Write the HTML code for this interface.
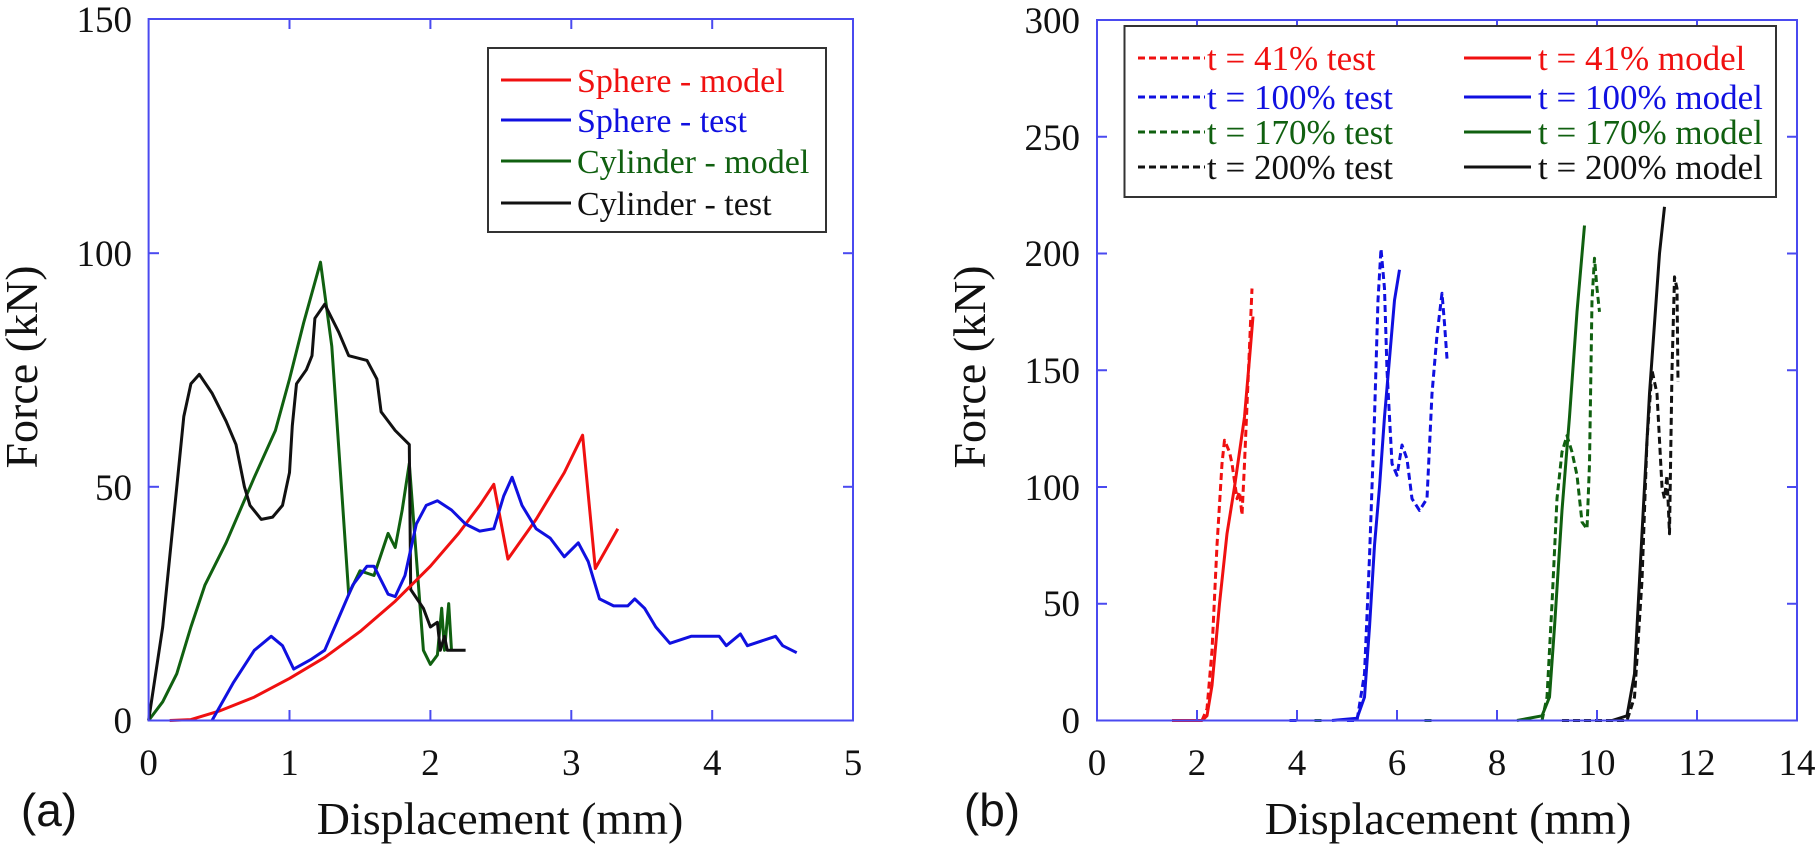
<!DOCTYPE html>
<html><head><meta charset="utf-8"><style>
html,body{margin:0;padding:0;background:#fff;}
svg{display:block;}
text{font-family:"Liberation Serif",serif;}
</style></head><body>
<svg id="s" width="1820" height="846" viewBox="0 0 1820 846" xmlns="http://www.w3.org/2000/svg">
<rect width="1820" height="846" fill="#fff"/>
<g id="plots"></g>
<!-- Panel a axes -->
<rect x="148.6" y="19" width="704.4" height="701.5" fill="none" stroke="#4a4af0" stroke-width="2"/>
<g stroke="#4a4af0" stroke-width="2">
<line x1="289.5" y1="720.5" x2="289.5" y2="710"/><line x1="430.4" y1="720.5" x2="430.4" y2="710"/><line x1="571.3" y1="720.5" x2="571.3" y2="710"/><line x1="712.2" y1="720.5" x2="712.2" y2="710"/>
<line x1="289.5" y1="19" x2="289.5" y2="29"/><line x1="430.4" y1="19" x2="430.4" y2="29"/><line x1="571.3" y1="19" x2="571.3" y2="29"/><line x1="712.2" y1="19" x2="712.2" y2="29"/>
<line x1="148.6" y1="253.2" x2="159" y2="253.2"/><line x1="148.6" y1="486.8" x2="159" y2="486.8"/>
<line x1="853" y1="253.2" x2="843" y2="253.2"/><line x1="853" y1="486.8" x2="843" y2="486.8"/>
</g>
<g font-size="37" fill="#111" text-anchor="end">
<text x="132" y="32">150</text><text x="132" y="266">100</text><text x="132" y="500">50</text><text x="132" y="733">0</text>
</g>
<g font-size="37" fill="#111" text-anchor="middle">
<text x="148.6" y="775">0</text><text x="289.5" y="775">1</text><text x="430.4" y="775">2</text><text x="571.3" y="775">3</text><text x="712.2" y="775">4</text><text x="853" y="775">5</text>
</g>
<text x="500" y="834" font-size="46" text-anchor="middle" fill="#111">Displacement (mm)</text>
<text transform="translate(37,367) rotate(-90)" font-size="46" text-anchor="middle" fill="#111">Force (kN)</text>
<text x="49" y="826" font-size="46" text-anchor="middle" fill="#111" style="font-family:'Liberation Sans',sans-serif">(a)</text>
<!-- legend a -->
<rect x="488" y="48" width="338" height="184" fill="#fff" stroke="#333" stroke-width="2"/>
<g stroke-width="3">
<line x1="501" y1="80" x2="571" y2="80" stroke="#f01010"/>
<line x1="501" y1="120" x2="571" y2="120" stroke="#1010e0"/>
<line x1="501" y1="161" x2="571" y2="161" stroke="#106010"/>
<line x1="501" y1="203" x2="571" y2="203" stroke="#111"/>
</g>
<g font-size="34">
<text x="577" y="92" fill="#f01010">Sphere - model</text>
<text x="577" y="132" fill="#1010e0">Sphere - test</text>
<text x="577" y="173" fill="#106010">Cylinder - model</text>
<text x="577" y="215" fill="#111">Cylinder - test</text>
</g>
<!-- Panel b axes -->
<rect x="1097" y="20" width="700" height="700.5" fill="none" stroke="#4a4af0" stroke-width="2"/>
<g id="tb" stroke="#4a4af0" stroke-width="2"></g>
<g font-size="37" fill="#111" text-anchor="end">
<text x="1080" y="33">300</text><text x="1080" y="150">250</text><text x="1080" y="266">200</text><text x="1080" y="383">150</text><text x="1080" y="500">100</text><text x="1080" y="616">50</text><text x="1080" y="733">0</text>
</g>
<g font-size="37" fill="#111" text-anchor="middle">
<text x="1097" y="775">0</text><text x="1197" y="775">2</text><text x="1297" y="775">4</text><text x="1397" y="775">6</text><text x="1497" y="775">8</text><text x="1597" y="775">10</text><text x="1697" y="775">12</text><text x="1797" y="775">14</text>
</g>
<text x="1448" y="834" font-size="46" text-anchor="middle" fill="#111">Displacement (mm)</text>
<text transform="translate(985,367) rotate(-90)" font-size="46" text-anchor="middle" fill="#111">Force (kN)</text>
<text x="992" y="826" font-size="46" text-anchor="middle" fill="#111" style="font-family:'Liberation Sans',sans-serif">(b)</text>
<!-- legend b -->
<rect x="1124.5" y="26" width="651.5" height="171" fill="#fff" stroke="#333" stroke-width="2"/>
<g stroke-width="3">
<line x1="1138" y1="58" x2="1205" y2="58" stroke="#f01010" stroke-dasharray="7 4"/>
<line x1="1138" y1="97" x2="1205" y2="97" stroke="#1010e0" stroke-dasharray="7 4"/>
<line x1="1138" y1="132" x2="1205" y2="132" stroke="#106010" stroke-dasharray="7 4"/>
<line x1="1138" y1="167" x2="1205" y2="167" stroke="#111" stroke-dasharray="7 4"/>
<line x1="1464" y1="58" x2="1531" y2="58" stroke="#f01010"/>
<line x1="1464" y1="97" x2="1531" y2="97" stroke="#1010e0"/>
<line x1="1464" y1="132" x2="1531" y2="132" stroke="#106010"/>
<line x1="1464" y1="167" x2="1531" y2="167" stroke="#111"/>
</g>
<g font-size="35">
<text x="1207" y="70" fill="#f01010">t = 41% test</text>
<text x="1207" y="109" fill="#1010e0">t = 100% test</text>
<text x="1207" y="144" fill="#106010">t = 170% test</text>
<text x="1207" y="179" fill="#111">t = 200% test</text>
<text x="1538" y="70" fill="#f01010">t = 41% model</text>
<text x="1538" y="109" fill="#1010e0">t = 100% model</text>
<text x="1538" y="144" fill="#106010">t = 170% model</text>
<text x="1538" y="179" fill="#111">t = 200% model</text>
</g>
</svg>
<script>
(function(){
var NS="http://www.w3.org/2000/svg";
var g=document.getElementById("plots");
function add(pts,fx,fy,col,dash){
 var p=document.createElementNS(NS,"polyline");
 var s=[];for(var i=0;i<pts.length;i+=2){s.push(fx(pts[i]).toFixed(1)+","+fy(pts[i+1]).toFixed(1));}
 p.setAttribute("points",s.join(" "));p.setAttribute("fill","none");p.setAttribute("stroke",col);
 p.setAttribute("stroke-width","3");p.setAttribute("stroke-linejoin","round");
 if(dash)p.setAttribute("stroke-dasharray","7 4");
 g.appendChild(p);
}
var ax=function(x){return 148.6+x*140.9;},ay=function(y){return 720.5-y*4.677;};
var bx=function(x){return 1097+x*50;},by=function(y){return 720.5-y*2.335;};
var R="#f01010",B="#1010e0",G="#106010",K="#111";
// panel a
add([0,0,0.1,4,0.2,10,0.3,20,0.4,29,0.55,38,0.75,52,0.9,62,1.0,73,1.1,85,1.22,98,1.3,80,1.38,45,1.42,27,1.5,32,1.6,31,1.7,40,1.75,37,1.8,45,1.85,55,1.9,35,1.95,15,2.0,12,2.05,14,2.08,24,2.1,15,2.13,25,2.15,15],ax,ay,G);
add([0,0,0.1,20,0.2,50,0.25,65,0.3,72,0.36,74,0.45,70,0.55,64,0.62,59,0.68,50,0.72,46,0.8,43,0.88,43.5,0.95,46,1.0,53,1.02,63,1.05,72,1.12,75,1.16,78,1.18,86,1.25,89,1.35,83,1.42,78,1.55,77,1.62,73,1.65,66,1.75,62,1.85,59,1.86,28,1.95,24,2.0,20,2.05,21,2.07,15,2.1,18,2.12,15,2.25,15],ax,ay,K);
add([0.15,0,0.3,0.2,0.5,2,0.75,5,1.0,9,1.25,13.5,1.5,19,1.75,25.5,2.0,33,2.2,40,2.35,46,2.45,50.5,2.55,34.5,2.75,43,2.95,53,3.08,61,3.17,32.5,3.33,41],ax,ay,R);
add([0.45,0,0.6,8,0.75,15,0.87,18,0.95,16,1.03,11,1.15,13,1.25,15,1.35,22,1.45,29,1.55,33,1.6,33,1.7,27,1.75,26.5,1.82,31,1.9,42,1.97,46,2.05,47,2.15,45,2.25,42,2.35,40.5,2.45,41,2.52,48,2.58,52,2.65,46,2.75,41,2.85,39,2.95,35,3.05,38,3.12,34,3.2,26,3.3,24.5,3.4,24.5,3.45,26,3.52,24,3.6,20,3.7,16.5,3.85,18,4.05,18,4.1,16,4.2,18.5,4.25,16,4.45,18,4.5,16,4.6,14.5],ax,ay,B);
// panel b
add([1.5,0,2.1,0,2.2,2,2.3,15,2.45,50,2.6,80,2.75,100,2.85,115,2.95,130,3.05,155,3.12,173],bx,by,R);
add([2.1,0,2.2,5,2.3,30,2.4,75,2.5,110,2.55,120,2.65,115,2.7,110,2.8,95,2.85,98,2.9,88,2.95,110,3.0,135,3.05,160,3.1,185],bx,by,R,1);
add([4.7,0,5.2,1,5.35,10,5.45,40,5.55,75,5.65,100,5.75,130,5.85,155,5.95,180,6.05,193],bx,by,B);
add([3.85,0,4.0,0],bx,by,B,1);
add([5.0,0,5.2,0,5.35,20,5.45,70,5.55,130,5.62,180,5.68,202,5.75,185,5.8,150,5.9,110,6.0,105,6.1,118,6.2,112,6.3,95,6.45,90,6.6,95,6.7,140,6.8,165,6.9,183,6.95,170,7.0,155],bx,by,B,1);
add([4.35,0,4.5,0],bx,by,G,1);add([6.55,0,6.7,0],bx,by,G,1);
add([8.4,0,8.9,2,9.05,10,9.15,40,9.3,90,9.45,130,9.6,175,9.75,212],bx,by,G);
add([8.9,0,9.0,10,9.1,50,9.2,95,9.3,115,9.4,122,9.5,115,9.6,105,9.7,85,9.8,82,9.85,110,9.9,180,9.95,198,10.0,185,10.05,175],bx,by,G,1);
add([10.3,0,10.6,2,10.75,20,10.85,60,10.95,100,11.05,140,11.15,170,11.25,200,11.35,220],bx,by,K);
add([9.3,0,10.6,0,10.75,10,10.9,60,11.0,120,11.1,150,11.2,140,11.3,100,11.35,95,11.4,105,11.45,80,11.5,150,11.55,190,11.6,185,11.62,145],bx,by,K,1);
// panel b ticks
var tb=document.getElementById("tb");
function ln(x1,y1,x2,y2){var l=document.createElementNS(NS,"line");l.setAttribute("x1",x1);l.setAttribute("y1",y1);l.setAttribute("x2",x2);l.setAttribute("y2",y2);tb.appendChild(l);}
for(var i=1;i<7;i++){var x=1097+i*100;ln(x,720.5,x,710);ln(x,20,x,30);}
for(var j=1;j<6;j++){var y=720.5-j*116.75;ln(1097,y,1107,y);ln(1797,y,1787,y);}
})();
</script>
</body></html>
